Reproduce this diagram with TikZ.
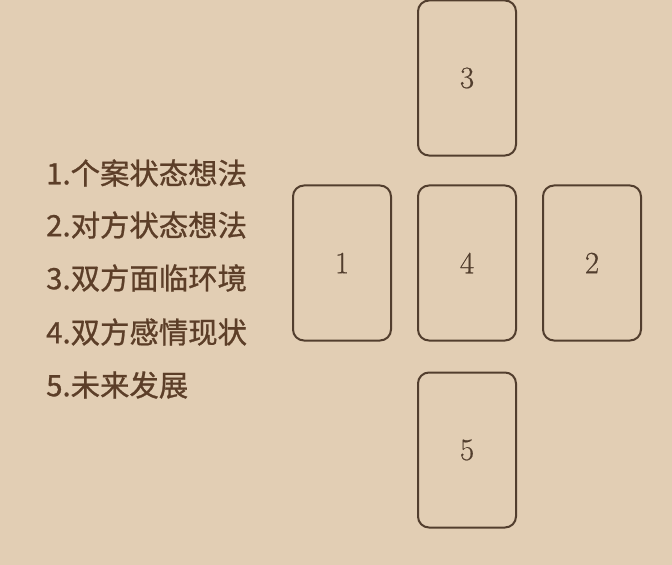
\documentclass[tikz,border=0pt]{standalone}
\usepackage{fontspec}
\newfontfamily\cjk[FakeBold=0.9]{Noto Sans CJK SC}
\newfontfamily\digits[FakeBold=0.6]{Latin Modern Roman}
\definecolor{paper}{RGB}{226,206,180}
\definecolor{ink}{RGB}{82,62,46}
\definecolor{textbrown}{RGB}{92,62,40}

\begin{document}
\begin{tikzpicture}[x=1bp,y=-1bp,
  card/.style={draw=ink, line width=2bp, rounded corners=11bp,
    minimum width=98bp, minimum height=155bp, inner sep=0pt,
    font=\digits\fontsize{31}{31}\selectfont, text=ink},
  item/.style={anchor=west, inner sep=0pt, text=textbrown,
    font=\cjk\fontsize{29.5}{29.5}\selectfont}]
\fill[paper] (0,0) rectangle (672,565);
\useasboundingbox (0,0) rectangle (672,565);
\node[card] (c3) at (467,78) {3};
\node[card] (c1) at (342,263) {1};
\node[card] (c4) at (467,263) {4};
\node[card] (c2) at (592,263) {2};
\node[card] (c5) at (467,450) {5};
\node[item] (t1) at (46,173) {1.个案状态想法};
\node[item] (t2) at (46,225) {2.对方状态想法};
\node[item] (t3) at (46,278) {3.双方面临环境};
\node[item] (t4) at (46,332) {4.双方感情现状};
\node[item] (t5) at (46,385) {5.未来发展};
\end{tikzpicture}
\end{document}
